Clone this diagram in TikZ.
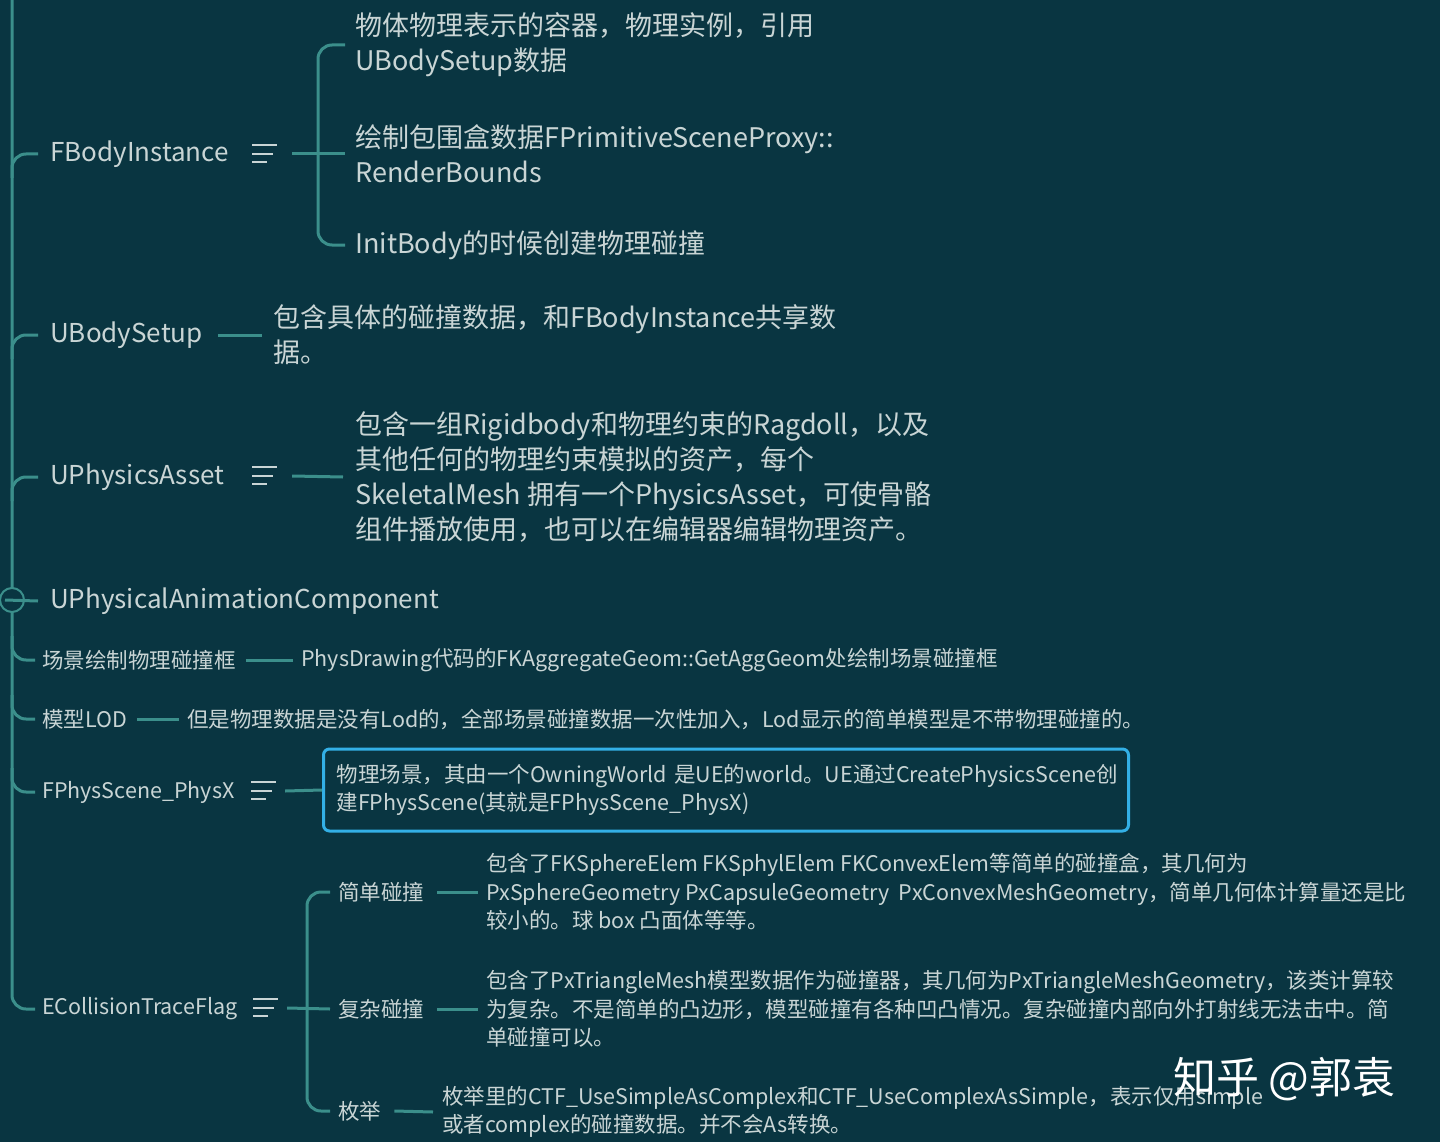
\documentclass[tikz,border=0pt]{standalone}
\usepackage{fontspec}
\setmainfont{Noto Sans CJK SC}
\usepackage{xcolor}
\usetikzlibrary{calc}

\definecolor{bgcol}{HTML}{093541}
\definecolor{txtcol}{HTML}{C9D5D5}
\definecolor{linkcol}{HTML}{3B8F8B}
\definecolor{boxcol}{HTML}{33B0E6}

\begin{document}
\begin{tikzpicture}[x=1pt,y=-1pt,
    topic/.style={anchor=west,inner sep=0pt,text=txtcol,font=\fontsize{26}{34}\selectfont},
    leaf/.style={anchor=west,inner sep=0pt,text=txtcol,align=left,font=\fontsize{27}{35}\selectfont},
    subtopic/.style={anchor=west,inner sep=0pt,text=txtcol,font=\fontsize{21.5}{29}\selectfont},
    subleaf/.style={anchor=west,inner sep=0pt,text=txtcol,align=left,font=\fontsize{21.5}{28.5}\selectfont},
    link/.style={draw=linkcol,line width=3pt},
    elbow/.style={link,rounded corners=14pt},
    notes/.style={minimum width=28pt,minimum height=24pt,inner sep=0pt,
        path picture={
            \draw[txtcol,line width=2pt] ([shift={(-12pt,9pt)}]path picture bounding box.center) -- ++(25pt,0pt);
            \draw[txtcol,line width=2pt] ([shift={(-12pt,0pt)}]path picture bounding box.center) -- ++(21pt,0pt);
            \draw[txtcol,line width=2pt] ([shift={(-12pt,-8pt)}]path picture bounding box.center) -- ++(15pt,0pt);
        }}]
    \fill[bgcol] (0,0) rectangle (1440,1142);
    \useasboundingbox (0,0) rectangle (1440,1142);
    \coordinate (trunk) at (12,0);

    \node[topic] (fbody) at (50,154) {FBodyInstance};
    \node[notes] (fbicon) at (264,154) {};
    \node[leaf] (fb1) at (355,45) {物体物理表示的容器，物理实例，引用\\UBodySetup数据};
    \node[leaf] (fb2) at (355,154) {绘制包围盒数据FPrimitiveSceneProxy::\\RenderBounds};
    \node[leaf] (fb3) at (355,245) {InitBody的时候创建物理碰撞};
    \coordinate (fbjoin) at (318,154);

    \node[topic] (ubody) at (50,335) {UBodySetup};
    \node[leaf] (ubodyd) at (273,335) {包含具体的碰撞数据，和FBodyInstance共享数\\据。};

    \node[topic] (uasset) at (50,477) {UPhysicsAsset};
    \node[notes] (uaicon) at (264,476) {};
    \node[leaf] (uassetd) at (355,477) {包含一组Rigidbody和物理约束的Ragdoll，以及\\其他任何的物理约束模拟的资产，每个\\SkeletalMesh 拥有一个PhysicsAsset，可使骨骼\\组件播放使用，也可以在编辑器编辑物理资产。};

    \node[topic] (uanim) at (50,601) {UPhysicalAnimationComponent};

    \node[subtopic] (scene) at (42,660) {场景绘制物理碰撞框};
    \node[subleaf] (scened) at (301,660) {PhysDrawing代码的FKAggregateGeom::GetAggGeom处绘制场景碰撞框};

    \node[subtopic] (lod) at (42,719) {模型LOD};
    \node[subleaf] (lodd) at (187,719) {但是物理数据是没有Lod的，全部场景碰撞数据一次性加入，Lod显示的简单模型是不带物理碰撞的。};

    \node[subtopic] (physx) at (42,792) {FPhysScene\_PhysX};
    \node[notes] (pxicon) at (263,791) {};
    \node[subleaf,draw=boxcol,line width=3pt,rounded corners=6pt,inner xsep=13pt,inner ysep=0pt,
        minimum height=82pt,text width=779pt] (physxd) at (322,790)
        {物理场景，其由一个OwningWorld 是UE的world。UE通过CreatePhysicsScene创\\建FPhysScene(其就是FPhysScene\_PhysX)};

    \node[subtopic] (ecoll) at (42,1009) {ECollisionTraceFlag};
    \node[notes] (ecicon) at (265,1008) {};
    \coordinate (ecjoin) at (307,1009);
    \node[subtopic] (simple) at (338,892) {简单碰撞};
    \node[subleaf] (simpled) at (486,892) {包含了FKSphereElem FKSphylElem FKConvexElem等简单的碰撞盒，其几何为\\PxSphereGeometry PxCapsuleGeometry \ PxConvexMeshGeometry，简单几何体计算量还是比\\较小的。球 box 凸面体等等。};
    \node[subtopic] (complex) at (338,1009) {复杂碰撞};
    \node[subleaf] (complexd) at (486,1009) {包含了PxTriangleMesh模型数据作为碰撞器，其几何为PxTriangleMeshGeometry，该类计算较\\为复杂。不是简单的凸边形，模型碰撞有各种凹凸情况。复杂碰撞内部向外打射线无法击中。简\\单碰撞可以。};
    \node[subtopic] (enum) at (338,1111) {枚举};
    \node[subleaf] (enumd) at (442,1112) {枚举里的CTF\_UseSimpleAsComplex和CTF\_UseComplexAsSimple，表示仅用simple\\或者complex的碰撞数据。并不会As转换。};

    \draw[elbow] (12,-10) |- ([xshift=-7pt]ecoll.west);
    \foreach \t in {fbody,ubody,uasset}
        \draw[elbow] ($(\t.west -| trunk)+(0,24)$) |- ([xshift=-12pt]\t.west);
    \foreach \t in {scene,lod,physx}
        \draw[elbow] ($(\t.west -| trunk)+(0,-24)$) |- ([xshift=-7pt]\t.west);

    \node[circle,draw=linkcol,line width=2pt,fill=bgcol,minimum size=24pt,inner sep=0pt] (fold) at (12,600) {};
    \draw[link] ([xshift=-7pt]fold.center) -- ([xshift=-12pt]uanim.west);

    \draw[elbow] ([xshift=-10pt]fb1.west) -| (fbjoin) |- ([xshift=-10pt]fb3.west);
    \draw[link] ([xshift=14pt]fbicon.east) -- ([xshift=-10pt]fb2.west);
    \draw[link] ([xshift=15pt]ubody.east) -- ([xshift=-11pt]ubodyd.west);
    \draw[link] ([xshift=14pt]uaicon.east) -- ([xshift=-12pt]uassetd.west);
    \draw[link] ([xshift=10pt]scene.east) -- ([xshift=-8pt]scened.west);
    \draw[link] ([xshift=10pt]lod.east) -- ([xshift=-8pt]lodd.west);
    \draw[link] ([xshift=8pt]pxicon.east) -- (physxd.west);

    \draw[elbow] ([xshift=-8pt]simple.west) -| (ecjoin) |- ([xshift=-8pt]enum.west);
    \draw[link] ([xshift=8pt]ecicon.east) -- ([xshift=-8pt]complex.west);
    \draw[link] ([xshift=13pt]simple.east) -- ([xshift=-8pt]simpled.west);
    \draw[link] ([xshift=13pt]complex.east) -- ([xshift=-8pt]complexd.west);
    \draw[link] ([xshift=13pt]enum.east) -- ([xshift=-9pt]enumd.west);

    \node[anchor=west,inner sep=0pt,text=white,font=\fontsize{43}{43}\selectfont] (mark) at (1173,1079) {知乎 @郭袁};
\end{tikzpicture}
\end{document}
